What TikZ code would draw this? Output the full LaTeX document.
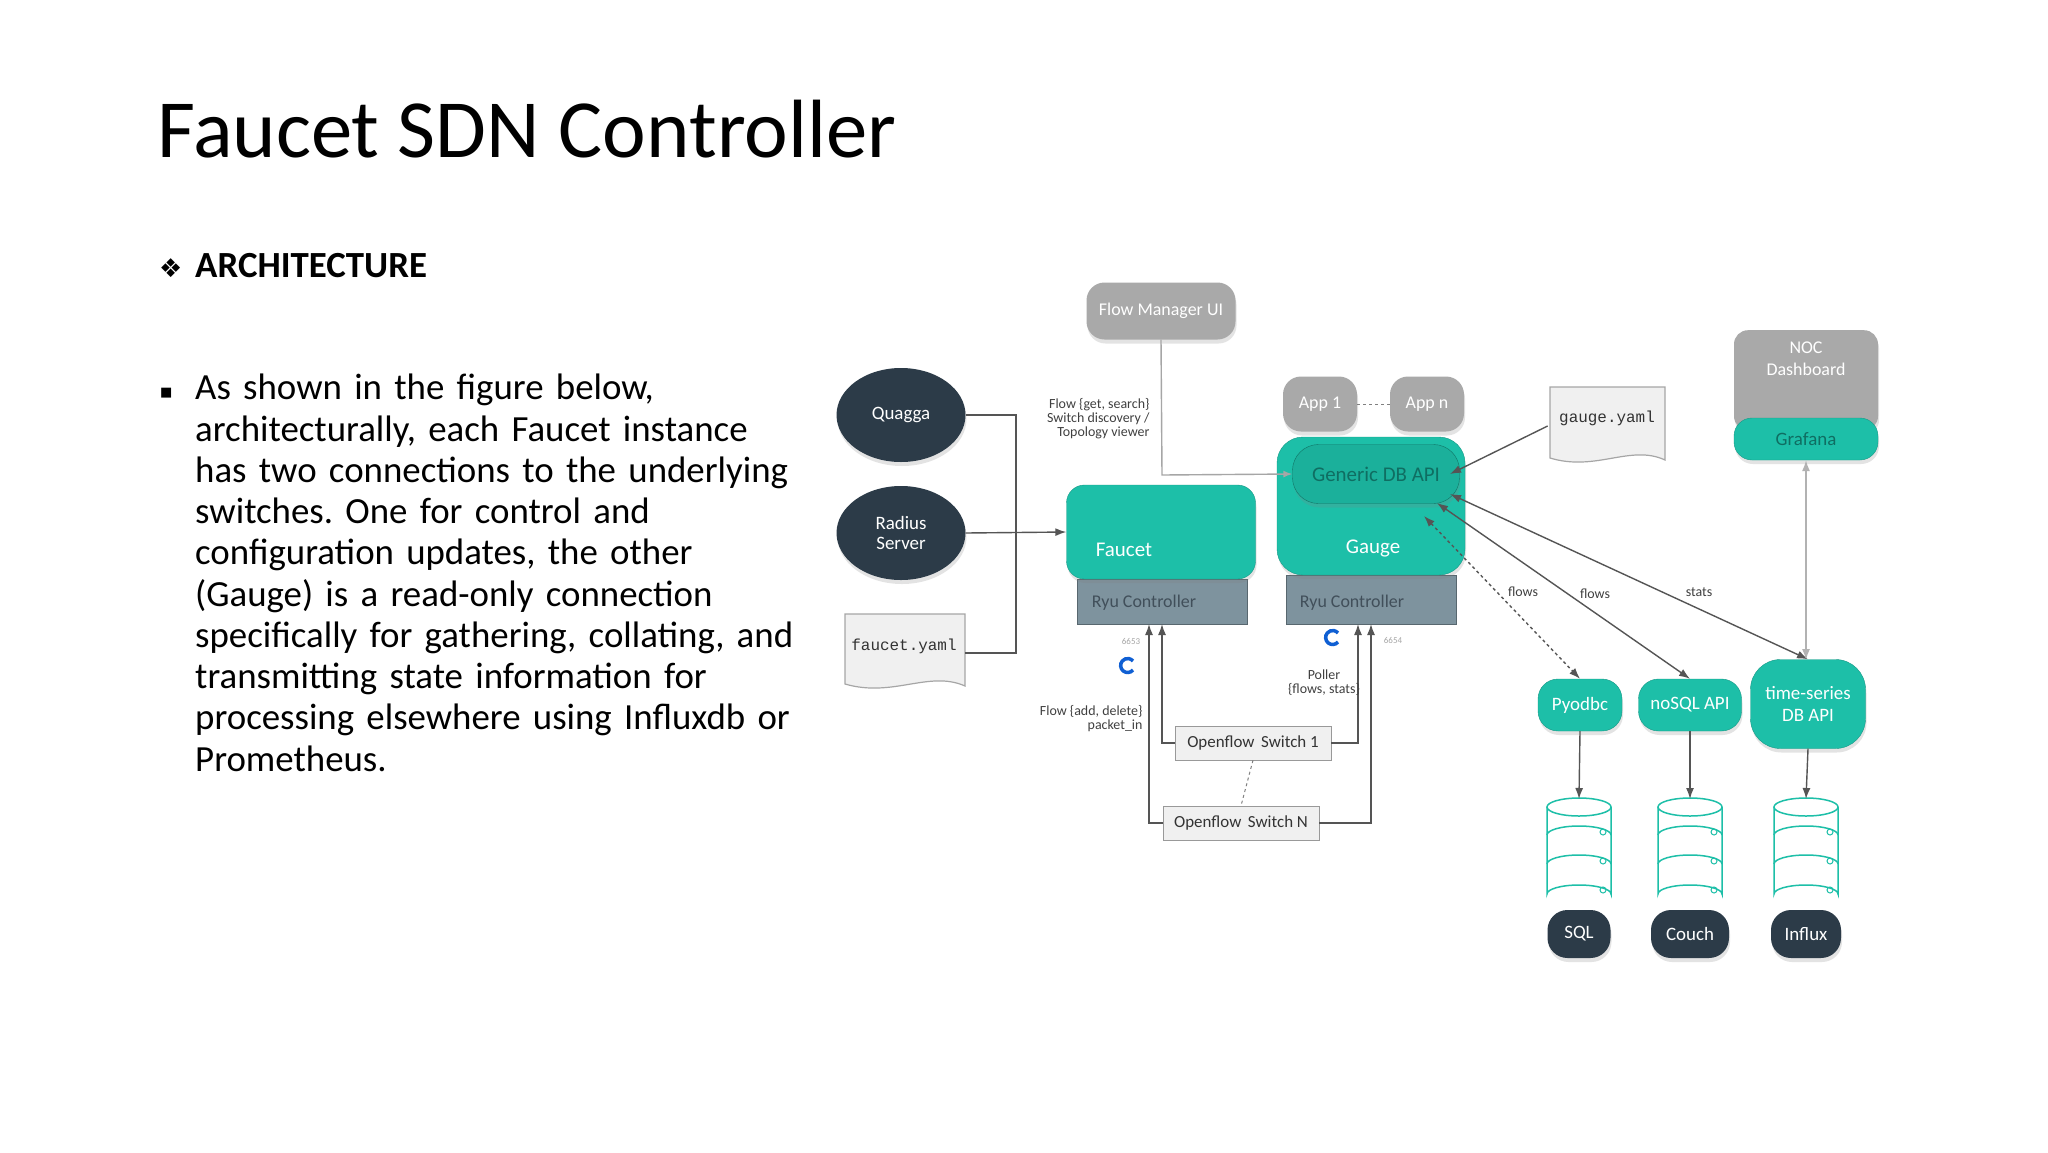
\documentclass[tikz,border=0pt]{standalone}
\usepackage{fontspec}
\setmainfont{Carlito}
\newfontfamily\monof{Liberation Mono}
\newfontfamily\symf{DejaVu Sans}
\usetikzlibrary{arrows.meta,shadows,shapes.geometric}
\definecolor{teal1}{HTML}{1DBFA8}
\definecolor{tealdk}{HTML}{0F6E62}
\definecolor{navy}{HTML}{2C3B48}
\definecolor{grayn}{HTML}{A9A9A9}
\definecolor{ryu}{HTML}{7E939E}
\definecolor{lnc}{HTML}{555555}
\tikzset{
 x=1bp,y=-1bp,
 fs/.style={font=\fontsize{#1}{#1}\selectfont},
 shd/.style={drop shadow={opacity=0.22,shadow xshift=1bp,shadow yshift=-4bp}},
 tealbox/.style={fill=teal1,draw=teal1!80!black,rounded corners=18bp,shd,text=white,fs=19,inner sep=0pt},
 graybox/.style={fill=grayn,rounded corners=18bp,text=white,fs=18,shd,inner sep=0pt},
 navyell/.style={ellipse,fill=navy,text=white,fs=19,shd,inner sep=0pt},
 ryubox/.style={fill=ryu,draw=ryu!70!black,anchor=north west},
 swbox/.style={fill=gray!12,draw=gray!80,text=black!80,fs=17,minimum width=156bp,minimum height=34bp,inner sep=0pt},
 dbl/.style={fill=navy,rounded corners=20bp,text=white,fs=19,minimum width=63bp,minimum height=48bp,inner sep=0pt,shd},
 ln/.style={draw=lnc,line width=1.4bp},
 arr/.style={ln,-{Latex[length=11bp,width=8bp]}},
 darr/.style={ln,{Latex[length=11bp,width=8bp]}-{Latex[length=11bp,width=8bp]}},
 small/.style={fs=14,text=black!75},
 tiny/.style={fs=9,text=gray!70},
 mono/.style={font=\monof\fontsize{16}{16}\selectfont,text=black!80},
}
\newcommand{\docshape}[4]{% x1 y1 x2 y2
 \path[fill=gray!12,draw=gray!70,line width=1.2bp] (#1,#2) -- (#3,#2) -- (#3,#4)
   .. controls ({#1+0.7*(#3-#1)},{#4-16}) and ({#1+0.4*(#3-#1)},{#4+12}) .. (#1,{#4-2}) -- cycle;}
\newcommand{\dbcyl}[2]{% cx, top y
 \begin{scope}[shift={(#1,#2)},draw=teal1,line width=1.5bp]
  \draw[fill=white] (-32,8) -- (-32,95) arc[x radius=32,y radius=9,start angle=180,end angle=360] -- (32,8);
  \foreach \yy in {36,65}{\draw (-32,\yy) arc[x radius=32,y radius=9,start angle=180,end angle=360];}
  \draw[fill=white] (0,8) ellipse[x radius=32,y radius=9];
  \foreach \yy in {33,62,91}{\draw[line width=1bp] (24,\yy) circle[radius=3];}
 \end{scope}}
\begin{document}
\frenchspacing
\begin{tikzpicture}
\useasboundingbox[fill=white] (0,0) rectangle (2048,1152);
% left text
\node[anchor=base west,fs=83,inner sep=0] (title) at (157,157) {Faucet SDN Controller};
\node[anchor=base west,inner sep=0,font=\symf\fontsize{26}{26}\selectfont] (dia) at (159,277) {❖};
\node[anchor=base west,inner sep=0,font=\fontsize{37}{37}\selectfont\bfseries] (arch) at (195,277) {ARCHITECTURE};
\node[anchor=base west,inner sep=0,font=\symf\fontsize{13}{13}\selectfont] (bul) at (160,396) {■};
\node[anchor=north west,inner sep=0,text width=720bp,align=left,font=\fontsize{37}{41.4}\selectfont] (body) at (195,374)
 {As shown in the figure below,\\
 architecturally, each Faucet instance\\
 has two connections to the underlying\\
 switches. One for control and\\
 configuration updates, the other\\
 (Gauge) is a read-only connection\\
 specifically for gathering, collating, and\\
 transmitting state information for\\
 processing elsewhere using Influxdb or\\
 Prometheus.};
% diagram nodes
\node[graybox,minimum width=149bp,minimum height=57bp] (fm) at (1161,311) {Flow Manager UI};
\node[navyell,minimum width=129bp,minimum height=94bp] (quagga) at (901,415) {Quagga};
\node[navyell,minimum width=129bp,minimum height=94bp,align=center] (radius) at (901,533) {Radius\\[2bp]Server};
\docshape{845}{614}{965}{686}
\node[mono] (fyaml) at (904,646) {faucet.yaml};
\docshape{1550}{387}{1665}{460}
\node[mono] (gyaml) at (1607,418) {gauge.yaml};
% Faucet
\node[ryubox,minimum width=170bp,minimum height=45bp] (fryu) at (1077,579) {};
\node[fs=18,text=navy!90] (fryul) at (1144,603) {Ryu Controller};
\node[tealbox,minimum width=189bp,minimum height=94bp] (faucet) at (1161,532) {};
\node[fs=21,text=white] (faucetl) at (1124,550) {Faucet};
% Gauge
\node[ryubox,minimum width=170bp,minimum height=49bp] (gryu) at (1286,575) {};
\node[fs=18,text=navy!90] (gryul) at (1352,603) {Ryu Controller};
\node[tealbox,minimum width=188bp,minimum height=138bp,rounded corners=26bp] (gauge) at (1371,506) {};
\node[fs=21,text=white] (gaugel) at (1373,549) {Gauge};
\node[fill=teal1!92!black,draw=teal1!60!black,rounded corners=26bp,minimum width=167bp,minimum height=59bp,text=tealdk,fs=21,inner sep=0pt,shd] (gdb) at (1376,474) {Generic DB API};
\node[graybox,minimum width=74bp,minimum height=55bp] (app1) at (1320,404) {App 1};
\node[graybox,minimum width=74bp,minimum height=55bp] (appn) at (1427,404) {App n};
% switches
\node[swbox] (sw1) at (1253,743) {Openflow\, Switch 1};
\node[swbox] (swn) at (1241,823) {Openflow\, Switch N};
% right side
\node[graybox,minimum width=144bp,minimum height=100bp,align=center,anchor=north,rounded corners=14bp] (noc) at (1806,330) {NOC\\[4bp]Dashboard\\[26bp]};
\node[tealbox,minimum width=144bp,minimum height=42bp,text=tealdk,fs=19,rounded corners=18bp] (graf) at (1806,439) {Grafana};
\node[tealbox,minimum width=84bp,minimum height=52bp,rounded corners=20bp] (pyo) at (1580,705) {Pyodbc};
\node[tealbox,minimum width=103bp,minimum height=52bp,rounded corners=20bp] (nosql) at (1690,705) {noSQL API};
\node[tealbox,minimum width=115bp,minimum height=89bp,rounded corners=30bp,align=center] (ts) at (1808,704) {time-series\\[3bp]DB API};
\dbcyl{1579}{799}
\dbcyl{1690}{799}
\dbcyl{1806}{799}
\coordinate (c1) at (1579,799);
\coordinate (c2) at (1690,799);
\coordinate (c3) at (1806,799);
\node[dbl] (sql) at (1579,934) {SQL};
\node[dbl,minimum width=78bp] (couch) at (1690,934) {Couch};
\node[dbl,minimum width=70bp] (influx) at (1806,934) {Influx};
% connectors left
\draw[ln] (quagga.east) -- (1016,415) -- (1016,653) -- (965,653);
\draw[arr] (radius.east) -- (faucet.west);
% flow manager
\draw[ln,draw=gray!70,-{Latex[length=9bp,width=7bp]}] (fm.south) -- (1162,475) -- (gdb.west);
\draw[ln,dashed,draw=gray,line width=1bp] (app1) -- (appn);
\node[small,align=right,anchor=east] (fmlab) at (1153,419) {Flow \{get, search\}\\Switch discovery /\\Topology viewer};
% switches to controllers
\draw[arr] (sw1.west) -- (1162,743) -- (1162,624);
\draw[arr] (swn.west) -- (1149,823) -- (1149,624);
\draw[arr] (sw1.east) -- (1358,743) -- (1358,624);
\draw[arr] (swn.east) -- (1371,823) -- (1371,624);
\draw[ln,dashed,line width=1bp,draw=gray] (sw1.south) -- (swn.north);
\node[tiny] (p6653) at (1131,641) {6653};
\node[tiny] (p6654) at (1393,640) {6654};
\node[small,align=right,anchor=east] (fadd) at (1146,719) {Flow \{add, delete\}\\packet\_in};
\node[small,align=center] (poll) at (1324,683) {Poller\\\{flows, stats\}};
\draw[line width=3.5bp,draw=teal1!50!blue] (1133,670) arc[radius=7,start angle=40,end angle=320];
\draw[line width=3.5bp,draw=teal1!50!blue] (1338,642) arc[radius=7,start angle=40,end angle=320];
% gauge right side
\draw[arr] (gyaml.west) ++(-8,8) -- (1450,474);
\coordinate (g1) at (1424,516);
\coordinate (g2) at (1437,503);
\coordinate (g3) at (1450,494);
\draw[darr,dashed] (g1) -- (pyo.north);
\draw[darr] (g2) -- (nosql.north);
\draw[darr] (g3) -- (ts.north);
\node[small] (lfl1) at (1523,592) {flows};
\node[small] (lfl2) at (1595,594) {flows};
\node[small] (lst) at (1699,592) {stats};
\draw[darr,draw=gray!60] (graf.south) -- (1806,660);
\draw[arr] (pyo.south) -- (c1);
\draw[arr] (nosql.south) -- (c2);
\draw[arr] (ts.south) -- (c3);
\end{tikzpicture}
\end{document}
